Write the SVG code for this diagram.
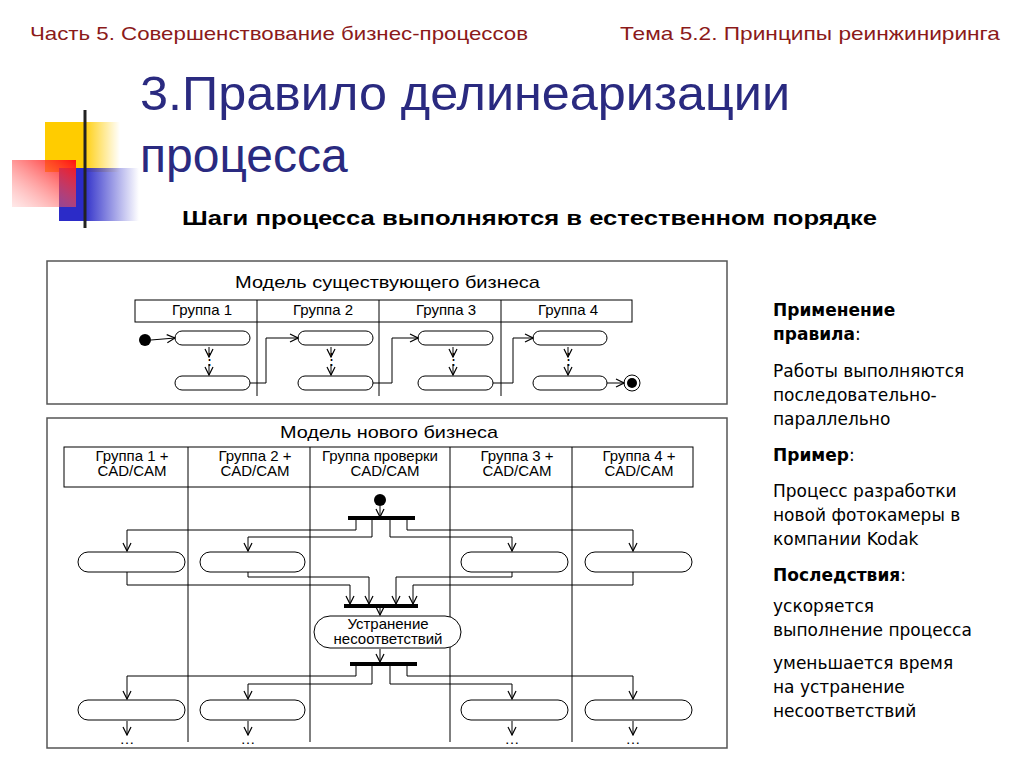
<svg xmlns="http://www.w3.org/2000/svg" width="1024" height="767" viewBox="0 0 1024 767">
<defs>
<linearGradient id="gy" x1="0" x2="1"><stop offset="0.5" stop-color="#ffcc00"/><stop offset="1" stop-color="#ffcc00" stop-opacity="0"/></linearGradient>
<linearGradient id="gb" x1="0" x2="1"><stop offset="0.3" stop-color="#2b2bc8"/><stop offset="1" stop-color="#2b2bc8" stop-opacity="0"/></linearGradient>
<linearGradient id="gr" x1="1" y1="0" x2="0" y2="1"><stop offset="0" stop-color="#ff1010"/><stop offset="1" stop-color="#ff9090" stop-opacity="0.2"/></linearGradient>
<linearGradient id="gl" x1="0" x2="1"><stop offset="0" stop-color="#333"/><stop offset="0.6" stop-color="#888"/><stop offset="1" stop-color="#ddd" stop-opacity="0"/></linearGradient>
<marker id="a" markerWidth="10" markerHeight="10" refX="9" refY="5" orient="auto" markerUnits="userSpaceOnUse"><path d="M1,1 L9,5 L1,9" fill="none" stroke="#000" stroke-width="1.2"/></marker>
</defs>
<style>
.h{font-family:"Liberation Sans",Arial,sans-serif;font-size:19px;fill:#8b1a1a}
.t{font-family:"Liberation Sans",Arial,sans-serif;font-size:17px;fill:#000}
.s{font-family:"Liberation Sans",Arial,sans-serif;font-size:15px;fill:#000}
.r{font-family:"DejaVu Sans",sans-serif;font-size:17px;fill:#000}
.b{font-weight:bold}
.box{fill:#fff;stroke:#555;stroke-width:1.5}
.ln{stroke:#000;stroke-width:1;fill:none}
.act{fill:#fff;stroke:#000;stroke-width:1}
.bar{stroke:#000;stroke-width:4}
</style>
<rect width="1024" height="767" fill="#fff"/>
<g id="decor">
<rect x="45" y="122" width="75" height="50" fill="url(#gy)"/>
<rect x="59" y="168" width="80" height="53" fill="url(#gb)"/>
<rect x="12" y="160" width="64" height="47" fill="url(#gr)"/>
<line x1="85" y1="110" x2="85" y2="228" stroke="#222" stroke-width="3"/>
<line x1="48" y1="200" x2="970" y2="200" stroke="url(#gl)" stroke-width="3"/>
</g>
<text class="h" x="30" y="40" textLength="498" lengthAdjust="spacingAndGlyphs">Часть 5. Совершенствование бизнес-процессов</text>
<text class="h" x="620" y="40" textLength="380" lengthAdjust="spacingAndGlyphs">Тема 5.2. Принципы реинжиниринга</text>
<text x="140" y="110" font-family="Liberation Sans,Arial,sans-serif" font-size="48" fill="#2a2a80" textLength="650" lengthAdjust="spacingAndGlyphs">3.Правило делинеаризации</text>
<text x="140" y="172" font-family="Liberation Sans,Arial,sans-serif" font-size="48" fill="#2a2a80">процесса</text>
<text x="182" y="225" font-family="Liberation Sans,Arial,sans-serif" font-size="21" font-weight="bold" textLength="695" lengthAdjust="spacingAndGlyphs">Шаги процесса выполняются в естественном порядке</text>

<g id="old">
<rect class="box" x="47" y="261" width="680" height="143"/>
<text class="t" x="235" y="288" textLength="305" lengthAdjust="spacingAndGlyphs">Модель существующего бизнеса</text>
<rect x="135" y="300" width="497" height="22" fill="#fff" stroke="#000"/>
<g class="ln"><line x1="257" y1="300" x2="257" y2="396"/><line x1="379" y1="300" x2="379" y2="396"/><line x1="501" y1="300" x2="501" y2="396"/></g>
<g class="s" text-anchor="middle"><text x="202" y="315">Группа 1</text><text x="323" y="315">Группа 2</text><text x="446" y="315">Группа 3</text><text x="568" y="315">Группа 4</text></g>
<g class="act">
<rect x="175" y="331" width="75" height="14" rx="7"/><rect x="175" y="376" width="75" height="14" rx="7"/>
<rect x="298" y="331" width="75" height="14" rx="7"/><rect x="298" y="376" width="75" height="14" rx="7"/>
<rect x="418" y="331" width="75" height="14" rx="7"/><rect x="418" y="376" width="75" height="14" rx="7"/>
<rect x="533" y="331" width="74" height="14" rx="7"/><rect x="533" y="376" width="74" height="14" rx="7"/>
</g>
<circle cx="145" cy="340" r="6" fill="#000"/>
<circle cx="632" cy="383" r="8" fill="#fff" stroke="#000"/><circle cx="632" cy="383" r="5" fill="#000"/>
<g class="ln" marker-end="url(#a)">
<line x1="151" y1="340" x2="175" y2="338"/>
<line x1="209" y1="347" x2="209" y2="357"/><line x1="209" y1="364" x2="209" y2="375"/>
<line x1="331" y1="347" x2="331" y2="357"/><line x1="331" y1="364" x2="331" y2="375"/>
<line x1="453" y1="347" x2="453" y2="357"/><line x1="453" y1="364" x2="453" y2="375"/>
<line x1="568" y1="347" x2="568" y2="357"/><line x1="568" y1="364" x2="568" y2="375"/>
<polyline points="250,383 266,383 266,338 298,338"/>
<polyline points="373,383 392,383 392,338 418,338"/>
<polyline points="493,383 513,383 513,338 533,338"/>
<line x1="607" y1="383" x2="624" y2="383"/>
</g>
<g class="s" text-anchor="middle" font-size="13"><text x="209" y="364">⋮</text><text x="331" y="364">⋮</text><text x="453" y="364">⋮</text><text x="568" y="364">⋮</text></g>
</g>

<g id="new">
<rect class="box" x="47" y="418" width="680" height="330"/>
<text class="t" x="280" y="438" textLength="218" lengthAdjust="spacingAndGlyphs">Модель нового бизнеса</text>
<rect x="64" y="447" width="629" height="40" fill="#fff" stroke="#000"/>
<g class="ln"><line x1="188" y1="447" x2="188" y2="742"/><line x1="310" y1="447" x2="310" y2="742"/><line x1="450" y1="447" x2="450" y2="742"/><line x1="572" y1="447" x2="572" y2="742"/></g>
<g class="s" text-anchor="middle">
<text x="132" y="461">Группа 1 +</text><text x="132" y="476">CAD/CAM</text>
<text x="255" y="461">Группа 2 +</text><text x="255" y="476">CAD/CAM</text>
<text x="380" y="461">Группа проверки</text><text x="385" y="476">CAD/CAM</text>
<text x="517" y="461">Группа 3 +</text><text x="517" y="476">CAD/CAM</text>
<text x="639" y="461">Группа 4 +</text><text x="639" y="476">CAD/CAM</text>
</g>
<circle cx="380" cy="500" r="6" fill="#000"/>
<line class="bar" x1="348" y1="518" x2="415" y2="518"/>
<line class="bar" x1="344" y1="606" x2="418" y2="606"/>
<line class="bar" x1="350" y1="664" x2="417" y2="664"/>
<g class="act">
<rect x="78" y="552" width="107" height="20" rx="10"/><rect x="200" y="552" width="105" height="20" rx="10"/>
<rect x="461" y="552" width="107" height="20" rx="10"/><rect x="585" y="552" width="107" height="20" rx="10"/>
<rect x="314" y="616" width="147" height="32" rx="16"/>
<rect x="78" y="700" width="107" height="20" rx="10"/><rect x="200" y="700" width="105" height="20" rx="10"/>
<rect x="461" y="700" width="107" height="20" rx="10"/><rect x="585" y="700" width="107" height="20" rx="10"/>
</g>
<text class="s" x="388" y="629" text-anchor="middle" font-size="14">Устранение</text>
<text class="s" x="388" y="644" text-anchor="middle" font-size="14">несоответствий</text>
<g class="ln" marker-end="url(#a)">
<line x1="380" y1="506" x2="380" y2="517"/>
<polyline points="356,520 356,530 127,530 127,551"/>
<polyline points="372,520 372,537 248,537 248,551"/>
<polyline points="390,520 390,537 512,537 512,551"/>
<polyline points="407,520 407,530 633,530 633,551"/>
<polyline points="127,572 127,585 350,585 350,604"/>
<polyline points="248,572 248,577 369,577 369,604"/>
<polyline points="512,572 512,577 396,577 396,604"/>
<polyline points="633,572 633,585 413,585 413,604"/>
<line x1="380" y1="608" x2="380" y2="615"/>
<line x1="380" y1="649" x2="380" y2="662"/>
<polyline points="356,666 356,676 127,676 127,699"/>
<polyline points="372,666 372,684 248,684 248,699"/>
<polyline points="390,666 390,684 512,684 512,699"/>
<polyline points="407,666 407,676 633,676 633,699"/>
<line x1="127" y1="721" x2="127" y2="735"/><line x1="248" y1="721" x2="248" y2="735"/>
<line x1="512" y1="721" x2="512" y2="735"/><line x1="633" y1="721" x2="633" y2="735"/>
</g>
<g class="s" text-anchor="middle" font-size="10"><text x="127" y="744">…</text><text x="248" y="744">…</text><text x="512" y="744">…</text><text x="633" y="744">…</text></g>
</g>

<g id="notes" class="r">
<text x="773" y="316" class="b">Применение</text>
<text x="773" y="340"><tspan class="b">правила</tspan>:</text>
<text x="773" y="377">Работы выполняются</text>
<text x="773" y="401">последовательно-</text>
<text x="773" y="425">параллельно</text>
<text x="773" y="461"><tspan class="b">Пример</tspan>:</text>
<text x="773" y="497">Процесс разработки</text>
<text x="773" y="521">новой фотокамеры в</text>
<text x="773" y="545">компании Kodak</text>
<text x="773" y="581"><tspan class="b">Последствия</tspan>:</text>
<text x="773" y="612">ускоряется</text>
<text x="773" y="636">выполнение процесса</text>
<text x="773" y="669">уменьшается время</text>
<text x="773" y="693">на устранение</text>
<text x="773" y="717">несоответствий</text>
</g>
</svg>
